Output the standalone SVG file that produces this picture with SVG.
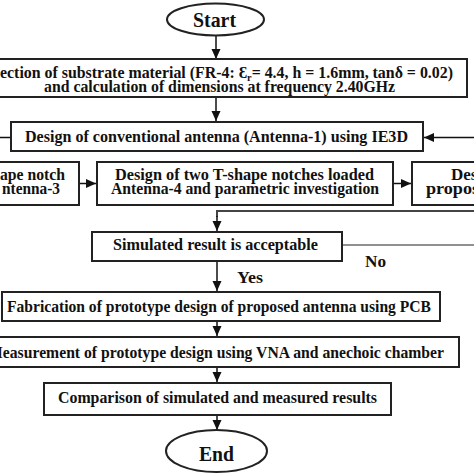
<svg xmlns="http://www.w3.org/2000/svg" width="474" height="474" viewBox="0 0 474 474">
<defs>
<marker id="arr" markerUnits="userSpaceOnUse" markerWidth="10" markerHeight="10" refX="10" refY="5" orient="auto">
<path d="M0,0.5 L10,5 L0,9.5 z" fill="#111"/>
</marker>
<style>
.box{fill:#fff;stroke:#222;stroke-width:2}
.t{font-family:"Liberation Serif","Times New Roman",serif;font-weight:bold;font-size:17px;fill:#111}
.c{text-anchor:middle}
.big{font-size:21px}
.ln{fill:none;stroke:#111;stroke-width:1.5}
</style>
</defs>
<rect width="474" height="474" fill="#fff"/>
<g id="connectors">
<line class="ln" x1="216" y1="35" x2="216" y2="59" marker-end="url(#arr)"/>
<line class="ln" x1="216" y1="97" x2="216" y2="121" marker-end="url(#arr)"/>
<line class="ln" x1="0" y1="137.5" x2="11" y2="137.5"/>
<line class="ln" x1="474" y1="137.5" x2="424" y2="137.5" marker-end="url(#arr)"/>
<line class="ln" x1="79" y1="183.5" x2="96" y2="183.5" marker-end="url(#arr)"/>
<line class="ln" x1="393" y1="183.5" x2="411" y2="183.5" marker-end="url(#arr)"/>
<polyline points="474,211 217,211 217,217" fill="none" stroke="#444" stroke-width="2"/>
<line class="ln" x1="217" y1="216" x2="217" y2="231" marker-end="url(#arr)"/>
<line x1="342" y1="245" x2="474" y2="245" stroke="#222" stroke-width="1"/>
<line class="ln" x1="217" y1="261" x2="217" y2="291" marker-end="url(#arr)"/>
<line class="ln" x1="217" y1="321" x2="217" y2="336" marker-end="url(#arr)"/>
<line class="ln" x1="217" y1="367" x2="217" y2="382" marker-end="url(#arr)"/>
<line class="ln" x1="217" y1="415" x2="217" y2="430" marker-end="url(#arr)"/>
<text class="t" x="365" y="267" textLength="21" lengthAdjust="spacingAndGlyphs">No</text>
<text class="t" x="237" y="283" textLength="26" lengthAdjust="spacingAndGlyphs">Yes</text>
</g>
<g id="start">
<ellipse cx="215.5" cy="19.5" rx="48.5" ry="16" fill="#fff" stroke="#222" stroke-width="2"/>
<text class="t big" x="193" y="27" textLength="43" lengthAdjust="spacingAndGlyphs">Start</text>
</g>
<g id="substrate">
<rect class="box" x="-5" y="59" width="472" height="38"/>
<text class="t" x="0" y="77.5" textLength="453" lengthAdjust="spacingAndGlyphs">ection of substrate material (FR-4: Ɛ<tspan font-size="11" dy="3">r</tspan><tspan dy="-3">= 4.4, h = 1.6mm, tanδ = 0.02)</tspan></text>
<text class="t" x="44" y="91.5" textLength="351" lengthAdjust="spacingAndGlyphs">and calculation of dimensions at frequency 2.40GHz</text>
</g>
<g id="antenna1">
<rect class="box" x="11" y="122" width="412" height="29"/>
<text class="t" x="25" y="141.5" textLength="383" lengthAdjust="spacingAndGlyphs">Design of conventional antenna (Antenna-1) using IE3D</text>
</g>
<g id="antenna3">
<rect class="box" x="-5" y="162" width="84" height="43"/>
<text class="t" x="0" y="180" textLength="65" lengthAdjust="spacingAndGlyphs">ape notch</text>
<text class="t" x="2" y="193.5" textLength="58" lengthAdjust="spacingAndGlyphs">ntenna-3</text>
</g>
<g id="antenna4">
<rect class="box" x="97" y="162" width="296" height="43"/>
<text class="t" x="115" y="180" textLength="259" lengthAdjust="spacingAndGlyphs">Design of two T-shape notches loaded</text>
<text class="t" x="111" y="193.5" textLength="268" lengthAdjust="spacingAndGlyphs">Antenna-4 and parametric investigation</text>
</g>
<g id="proposed">
<rect class="box" x="412" y="162" width="70" height="43"/>
<text class="t" x="451" y="180">Des</text>
<text class="t" x="426" y="193.5" textLength="53" lengthAdjust="spacingAndGlyphs">propos</text>
</g>
<g id="simulated">
<rect class="box" x="92" y="232" width="250" height="29"/>
<text class="t" x="113" y="249.5" textLength="205" lengthAdjust="spacingAndGlyphs">Simulated result is acceptable</text>
</g>
<g id="fabrication">
<rect class="box" x="2" y="292" width="438" height="29"/>
<text class="t" x="7" y="311.5" textLength="424" lengthAdjust="spacingAndGlyphs">Fabrication of prototype design of proposed antenna using PCB</text>
</g>
<g id="measurement">
<rect class="box" x="-5" y="337" width="464" height="30"/>
<text class="t" x="-12" y="357.5" textLength="456" lengthAdjust="spacingAndGlyphs">Measurement of prototype design using VNA and anechoic chamber</text>
</g>
<g id="comparison">
<rect class="box" x="44" y="383" width="347" height="32"/>
<text class="t" x="58" y="402.5" textLength="319" lengthAdjust="spacingAndGlyphs">Comparison of simulated and measured results</text>
</g>
<g id="end">
<ellipse cx="216.5" cy="451" rx="50.5" ry="21" fill="#fff" stroke="#222" stroke-width="2"/>
<text class="t big" x="199" y="461" textLength="35" lengthAdjust="spacingAndGlyphs">End</text>
</g>
</svg>
